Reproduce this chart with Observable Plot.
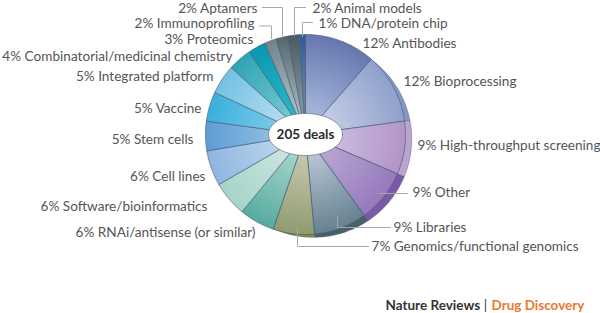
<!DOCTYPE html>
<html><head><meta charset="utf-8">
<style>html,body{margin:0;padding:0;background:#fff}svg{display:block}</style>
<script src="https://cdn.jsdelivr.net/npm/d3@7"></script>
<script src="https://cdn.jsdelivr.net/npm/@observablehq/plot@0.6"></script>
</head><body><div id="chart"></div>
<script>
const categories = ["Antibodies","Bioprocessing","High-throughput screening","Other","Libraries","Genomics/functional genomics","RNAi/antisense (or similar)","Software/bioinformatics","Cell lines","Stem cells","Vaccine","Integrated platform","Combinatorial/medicinal chemistry","Proteomics","Immunoprofiling","Aptamers","Animal models","DNA/protein chip"];
const shares = [12,12,9,9,9,7,6,6,6,5,5,5,4,3,2,2,2,1];
const innerColors = ["#a3b3d8","#c3cde5","#cdbde0","#b9a6d3","#b3c2d2","#c2c6aa","#a2d3ca","#cbe5de","#bbd6ee","#93c2e4","#80cbe8","#b6deef","#70c8ce","#28b4c9","#abbfc6","#a2b5bc","#8398a3","#6f8c9e"];
const outerColors = ["#6677af","#8fa0cc","#b295c8","#9679bc","#66818f","#909b70","#56ab9f","#a6d4c9","#8fb6e1","#5e9cd4","#3bafdd","#73c0e4","#2fa4b6","#0b97ae","#73838b","#566770","#4b5b64","#2f5c9f"];
const rimColors = ["#6677af","#8598c4","#bca3d0","#7a5aa8","#46616c","#7d8c45","#56ab9f","#a6d4c9","#8fb6e1","#5e9cd4","#3bafdd","#73c0e4","#2fa4b6","#0b97ae","#73838b","#566770","#4b5b64","#2f5c9f"];
const centerLabel = "205 deals";

// Layout (px in the 600x313 frame)
const cx = 305, cy = 134, r = 100;
const rimDx = 8, rimDy = 4.6, rimR = 98.2;
const holeRx = 37, holeRy = 21;
const labelPlaces = [
  [362,43,"start"],[403,81,"start"],[417,145,"start"],[412,192,"start"],[393,227,"start"],[371,246,"start"],
  [255,232,"end"],[207,206,"end"],[205,176,"end"],[193,139,"end"],[201,108,"end"],[213,76,"end"],
  [232,56,"end"],[253,39,"end"],[254,23.5,"end"],[257,8,"end"],[312,8,"start"],[318,23,"start"]
];
const leaders = [
  [[262,7],[282,7],[282,35]],
  [[305,7],[294,7],[294,35]],
  [[312,22],[302,22],[302,36]],
  [[259,25.5],[271,25.5],[271,38]],
  [[337,216],[337,227],[390,227]],
  [[297,227],[297,246],[368,246]],
  [[379,193],[407,193]]
];

const arcs = d3.pie().sort(null).value(d => d)(shares);
const polar = (a, R) => [cx + R * Math.sin(a), cy - R * Math.cos(a)];
const rimRadius = a => {
  const dir = [Math.sin(a), -Math.cos(a)];
  const along = rimDx * dir[0] + rimDy * dir[1];
  const d2 = rimDx * rimDx + rimDy * rimDy;
  return along + Math.sqrt(rimR * rimR - d2 + along * along);
};
const sector = (arc, radius) => {
  const n = Math.max(2, Math.ceil((arc.endAngle - arc.startAngle) * 40));
  const pts = [[cx, cy]];
  for (let i = 0; i <= n; i++) {
    const a = arc.startAngle + (arc.endAngle - arc.startAngle) * i / n;
    pts.push(polar(a, radius(a)));
  }
  pts.push([cx, cy]);
  return pts;
};
const ellipse = d3.range(0, 73).map(i => {
  const a = i / 72 * 2 * Math.PI;
  return [cx + holeRx * Math.cos(a), cy + holeRy * Math.sin(a)];
});
const px = {x: d => d[0], y: d => d[1]};
const edge = "#46566e";

const marks = [];
arcs.forEach((arc, i) => {
  const mid = (arc.startAngle + arc.endAngle) / 2;
  if (rimRadius(mid) > r - 0.5)
    marks.push(Plot.line(sector(arc, rimRadius), {...px, fill: rimColors[i], stroke: edge, strokeWidth: 0.5, strokeOpacity: 0.8}));
});
arcs.forEach((arc, i) => {
  marks.push(Plot.line(sector(arc, () => r), {...px, fill: `url(#g${i})`, stroke: edge, strokeWidth: 0.7, strokeOpacity: 0.85}));
});
leaders.forEach(l => marks.push(Plot.line(l, {...px, stroke: "#a8a8a8", strokeWidth: 1})));
marks.push(Plot.line(ellipse, {...px, fill: "#fff", stroke: "#55606e", strokeWidth: 0.6}));
marks.push(Plot.text([centerLabel], {x: () => cx, y: () => cy + 0.5, text: d => d, fontFamily: "Lato", fontWeight: 700, fontSize: 13.5, fill: "#2b2b2b", textAnchor: "middle", lineAnchor: "middle"}));
const labelRows = categories.map((c, i) => ({t: `${shares[i]}% ${c}`, x: labelPlaces[i][0], y: labelPlaces[i][1], a: labelPlaces[i][2]}));
for (const a of ["start", "end"]) {
  marks.push(Plot.text(labelRows.filter(d => d.a === a), {x: "x", y: "y", text: "t", textAnchor: a, lineAnchor: "middle", fontFamily: "Lato", fontSize: 13.6, fill: "#555"}));
}
marks.push(Plot.text(["Nature Reviews"], {x: () => 385, y: () => 305, text: d => d, textAnchor: "start", lineAnchor: "middle", fontFamily: "Lato", fontWeight: 700, fontSize: 13.5, fill: "#333"}));
marks.push(Plot.text(["|"], {x: () => 485, y: () => 305, text: d => d, textAnchor: "middle", lineAnchor: "middle", fontFamily: "Lato", fontSize: 13.5, fill: "#333"}));
marks.push(Plot.text(["Drug Discovery"], {x: () => 491, y: () => 305, text: d => d, textAnchor: "start", lineAnchor: "middle", fontFamily: "Lato", fontWeight: 700, fontSize: 13.5, fill: "#e8792f"}));

const plot = Plot.plot({
  width: 600, height: 313, margin: 0,
  x: {axis: null, domain: [0, 600], range: [0, 600]},
  y: {axis: null, domain: [0, 313], range: [0, 313]},
  marks
});
const defs = d3.select(plot).insert("defs", ":first-child");
shares.forEach((_, i) => {
  const g = defs.append("radialGradient").attr("id", `g${i}`).attr("gradientUnits", "userSpaceOnUse")
    .attr("cx", cx).attr("cy", cy).attr("r", r);
  g.append("stop").attr("offset", "25%").attr("stop-color", innerColors[i]);
  g.append("stop").attr("offset", "100%").attr("stop-color", outerColors[i]);
});
document.getElementById("chart").append(plot);
</script></body></html>
